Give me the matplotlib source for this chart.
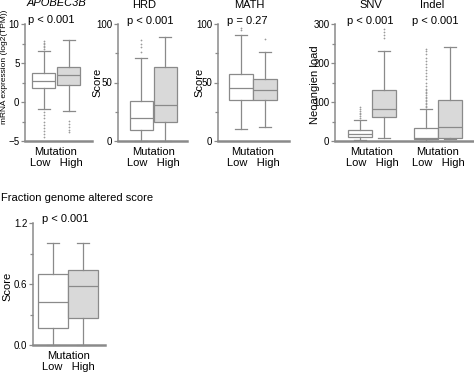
import matplotlib
matplotlib.use("Agg")
import matplotlib.pyplot as plt
from matplotlib.ticker import MultipleLocator

plt.rcParams["font.family"] = ["Liberation Sans", "DejaVu Sans"]

W, H = 474, 384
EDGE = "#8a8a8a"
FILLS = ["white", "#d9d9d9"]

# box statistics: (q1, median, q3, whisker low, whisker high)
apobec_low = (1.8, 2.7, 3.7, -0.9, 6.5)
apobec_high = (2.2, 3.45, 4.5, -1.2, 7.9)
apobec_low_fliers = [6.8, 7.0, 7.2, 7.4, 7.6, 7.8, -1.3, -1.7, -2.1, -2.5,
                     -2.9, -3.3, -3.7, -4.1, -4.5]
apobec_high_fliers = [-2.4, -2.8, -3.2, -3.6, -3.9]

hrd_low = (9.5, 19.5, 34, 0, 71)
hrd_high = (16, 30.5, 63.5, 0, 89)
hrd_low_fliers = [76, 80, 83, 86]
hrd_high_fliers = []

math_low = (35, 45, 57, 10, 91)
math_high = (35, 44, 53, 12, 76)
math_low_fliers = [95, 97]
math_high_fliers = [87]

snv_low = (10, 17, 28, 3, 53)
snv_high = (62, 81, 131, 7, 232)
snv_low_fliers = [58, 63, 68, 73, 78, 83, 87]
snv_high_fliers = [265, 272, 279, 286]

indel_low = (6, 8, 33, 0, 81)
indel_high = (7, 36, 105, 5, 242)
indel_low_fliers = [86, 90, 94, 98, 102, 106, 110, 114, 118, 122, 126, 130,
                    134, 142, 150, 158, 166, 174, 182, 190, 198, 206, 214,
                    222, 230, 236]
indel_high_fliers = []

fga_low = (0.17, 0.42, 0.70, 0.0, 1.0)
fga_high = (0.27, 0.585, 0.74, 0.0, 1.0)

group_label = "Mutation\nLow   High"


def stats(values, fliers):
    q1, med, q3, lo, hi = values
    return {"q1": q1, "med": med, "q3": q3, "whislo": lo, "whishi": hi,
            "fliers": fliers}


def px_axes(fig, left, right, top, bottom):
    return fig.add_axes([left / W, 1 - bottom / H, (right - left) / W,
                         (bottom - top) / H])


def draw_boxes(ax, box_stats, positions, width, capwidth):
    art = ax.bxp(
        box_stats,
        positions=positions,
        widths=width,
        capwidths=capwidth,
        patch_artist=True,
        showfliers=True,
        boxprops=dict(edgecolor=EDGE, linewidth=0.9),
        whiskerprops=dict(color=EDGE, linewidth=0.9),
        capprops=dict(color=EDGE, linewidth=0.9),
        medianprops=dict(color=EDGE, linewidth=0.9),
        flierprops=dict(marker="o", markersize=0.9, markeredgewidth=0.3,
                        markerfacecolor="#9a9a9a", markeredgecolor="#9a9a9a",
                        linestyle="none"),
    )
    for i, patch in enumerate(art["boxes"]):
        patch.set_facecolor(FILLS[i % 2])
    for a in art["fliers"]:
        a.set_clip_on(False)
    for a in art["whiskers"] + art["caps"]:
        a.set_clip_on(False)


def style_axes(ax, ylim, major, minor, xlim, label_pos):
    ax.set_ylim(*ylim)
    ax.set_xlim(*xlim)
    ax.yaxis.set_major_locator(MultipleLocator(major))
    ax.yaxis.set_minor_locator(MultipleLocator(minor))
    for side in ["top", "right"]:
        ax.spines[side].set_visible(False)
    ax.spines["left"].set_color(EDGE)
    ax.spines["left"].set_linewidth(1.1)
    ax.spines["bottom"].set_color(EDGE)
    ax.spines["bottom"].set_linewidth(1.8)
    ax.tick_params(axis="y", which="major", length=3, width=0.9, color=EDGE,
                   labelsize=7, pad=1)
    ax.tick_params(axis="y", which="minor", length=2.5, width=0.9, color=EDGE)
    ax.set_xticks(label_pos)
    ax.set_xticklabels([group_label] * len(label_pos), fontsize=8,
                       linespacing=1.2)
    ax.tick_params(axis="x", length=0, pad=4)
    ax.patch.set_alpha(0)


def fig_text(fig, x, y, s, size=8, **kw):
    fig.text(x / W, 1 - y / H, s, ha="center", va="center", fontsize=size,
             **kw)


def main() -> None:
    fig = plt.figure(figsize=(W / 100, H / 100), dpi=100)

    # APOBEC3B
    ax = px_axes(fig, 25, 92, 24, 141)
    draw_boxes(ax, [stats(apobec_low, apobec_low_fliers),
                    stats(apobec_high, apobec_high_fliers)],
               [1, 2], 0.92, 0.48)
    style_axes(ax, (-5, 10), 5, 2.5, (0.26, 2.94), [1.5])
    fig_text(fig, 5, 67, "mRNA expression (log2(TPM))", size=6, rotation=90)
    fig_text(fig, 56, 3, "APOBEC3B", style="italic")
    fig_text(fig, 51, 20, "p < 0.001")

    # HRD
    ax = px_axes(fig, 118, 187, 24, 141)
    draw_boxes(ax, [stats(hrd_low, hrd_low_fliers),
                    stats(hrd_high, hrd_high_fliers)],
               [1, 2], 0.96, 0.5)
    style_axes(ax, (0, 100), 50, 25, (0.02, 2.90), [1.5])
    fig_text(fig, 97, 82, "Score", rotation=90)
    fig_text(fig, 144, 5, "HRD")
    fig_text(fig, 150, 21, "p < 0.001")

    # MATH
    ax = px_axes(fig, 218, 289, 24, 141)
    draw_boxes(ax, [stats(math_low, math_low_fliers),
                    stats(math_high, math_high_fliers)],
               [1, 2], 0.98, 0.5)
    style_axes(ax, (0, 100), 50, 25, (0.04, 3.0), [1.5])
    fig_text(fig, 199, 82, "Score", rotation=90)
    fig_text(fig, 249, 5, "MATH")
    fig_text(fig, 247, 21, "p = 0.27")

    # SNV / Indel neoantigen load
    ax = px_axes(fig, 335, 474, 24, 141)
    draw_boxes(ax, [stats(snv_low, snv_low_fliers),
                    stats(snv_high, snv_high_fliers),
                    stats(indel_low, indel_low_fliers),
                    stats(indel_high, indel_high_fliers)],
               [1, 2, 3.75, 4.75], 0.98, 0.5)
    style_axes(ax, (0, 300), 100, 50, (-0.04, 5.75), [1.5, 4.25])
    fig_text(fig, 315, 85, "Neoangien load", rotation=90)
    fig_text(fig, 371, 5, "SNV")
    fig_text(fig, 370, 21, "p < 0.001")
    fig_text(fig, 432, 5, "Indel")
    fig_text(fig, 435, 21, "p < 0.001")

    # Fraction genome altered
    ax = px_axes(fig, 33, 105, 223, 345)
    draw_boxes(ax, [stats(fga_low, []), stats(fga_high, [])],
               [1, 2], 0.98, 0.4)
    style_axes(ax, (0, 1.2), 0.6, 0.3, (0.33, 2.73), [1.5])
    ax.set_yticks([0, 0.6, 1.2])
    ax.set_yticklabels(["0.0", "0.6", "1.2"])
    fig_text(fig, 7, 286, "Score", rotation=90)
    fig.text(1 / W, 1 - 198 / H, "Fraction genome altered score",
             ha="left", va="center", fontsize=8)
    fig_text(fig, 65, 219, "p < 0.001")

    fig.savefig("out.png", dpi=100)
    plt.close(fig)


if __name__ == "__main__":
    main()
